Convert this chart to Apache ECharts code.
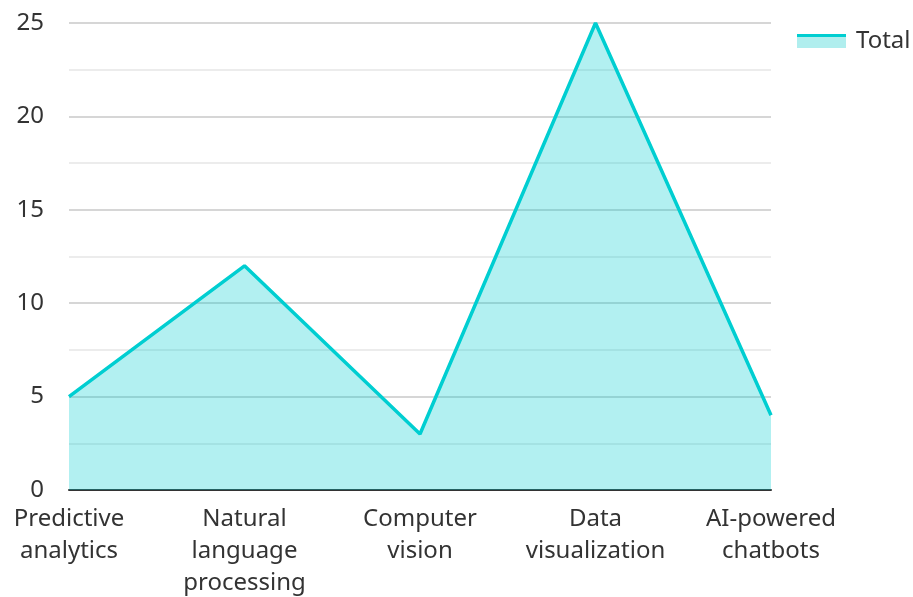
<!DOCTYPE html>
<html>
<head>
<meta charset="utf-8">
<script src="https://cdn.jsdelivr.net/npm/echarts@6/dist/echarts.min.js"></script>
<style>
	html, body { margin: 0; padding: 0; background: #fff; }
	#chart { width: 913px; height: 597px; }
</style>
</head>
<body>
<div id="chart"></div>
<script>
// data
let categories = ["Predictive\nanalytics", "Natural\nlanguage\nprocessing", "Computer\nvision", "Data\nvisualization", "AI-powered\nchatbots"]
let totals = [5, 12, 3, 25, 4]
let seriesName = "Total"

let lineColor = "#00CED1"
let areaColor = "#b0eeee"

let chart = echarts.init(document.getElementById("chart"))
chart.setOption({
	animation: false,
	textStyle: {
		fontFamily: "Noto Sans"
	},
	grid: {
		left: 69,
		right: 142,
		top: 23,
		bottom: 107,
		outerBoundsMode: "none"
	},
	legend: {
		left: 792,
		top: 24,
		icon: "rect",
		itemWidth: 49,
		itemHeight: 14,
		itemGap: 10,
		itemStyle: {
			color: new echarts.graphic.LinearGradient(0, 0, 0, 1, [
				{offset: 0, color: lineColor},
				{offset: 0.22, color: lineColor},
				{offset: 0.22, color: areaColor},
				{offset: 1, color: areaColor}
			])
		},
		textStyle: {
			fontSize: 24,
			color: "#333",
			padding: [0, 0, 0, 5]
		},
		data: [seriesName]
	},
	xAxis: {
		type: "category",
		boundaryGap: false,
		data: categories,
		axisLine: {
			lineStyle: {
				color: "#333",
				width: 2
			}
		},
		axisTick: {
			show: false
		},
		axisLabel: {
			interval: 0,
			fontSize: 24,
			lineHeight: 32,
			color: "#333",
			margin: 13
		}
	},
	yAxis: {
		type: "value",
		min: 0,
		max: 25,
		interval: 5,
		axisLine: {
			show: false
		},
		axisTick: {
			show: false
		},
		axisLabel: {
			fontSize: 24,
			color: "#333",
			margin: 25
		},
		splitLine: {
			lineStyle: {
				color: "#c8c8c8",
				width: 1.5
			}
		},
		minorTick: {
			show: false,
			splitNumber: 2
		},
		minorSplitLine: {
			show: true,
			lineStyle: {
				color: "#e6e6e6",
				width: 1.5
			}
		}
	},
	series: [
		{
			name: seriesName,
			type: "line",
			data: totals,
			symbol: "none",
			lineStyle: {
				color: lineColor,
				width: 3.5
			},
			itemStyle: {
				color: lineColor
			},
			areaStyle: {
				color: lineColor,
				opacity: 0.3
			}
		}
	]
})
</script>
</body>
</html>
